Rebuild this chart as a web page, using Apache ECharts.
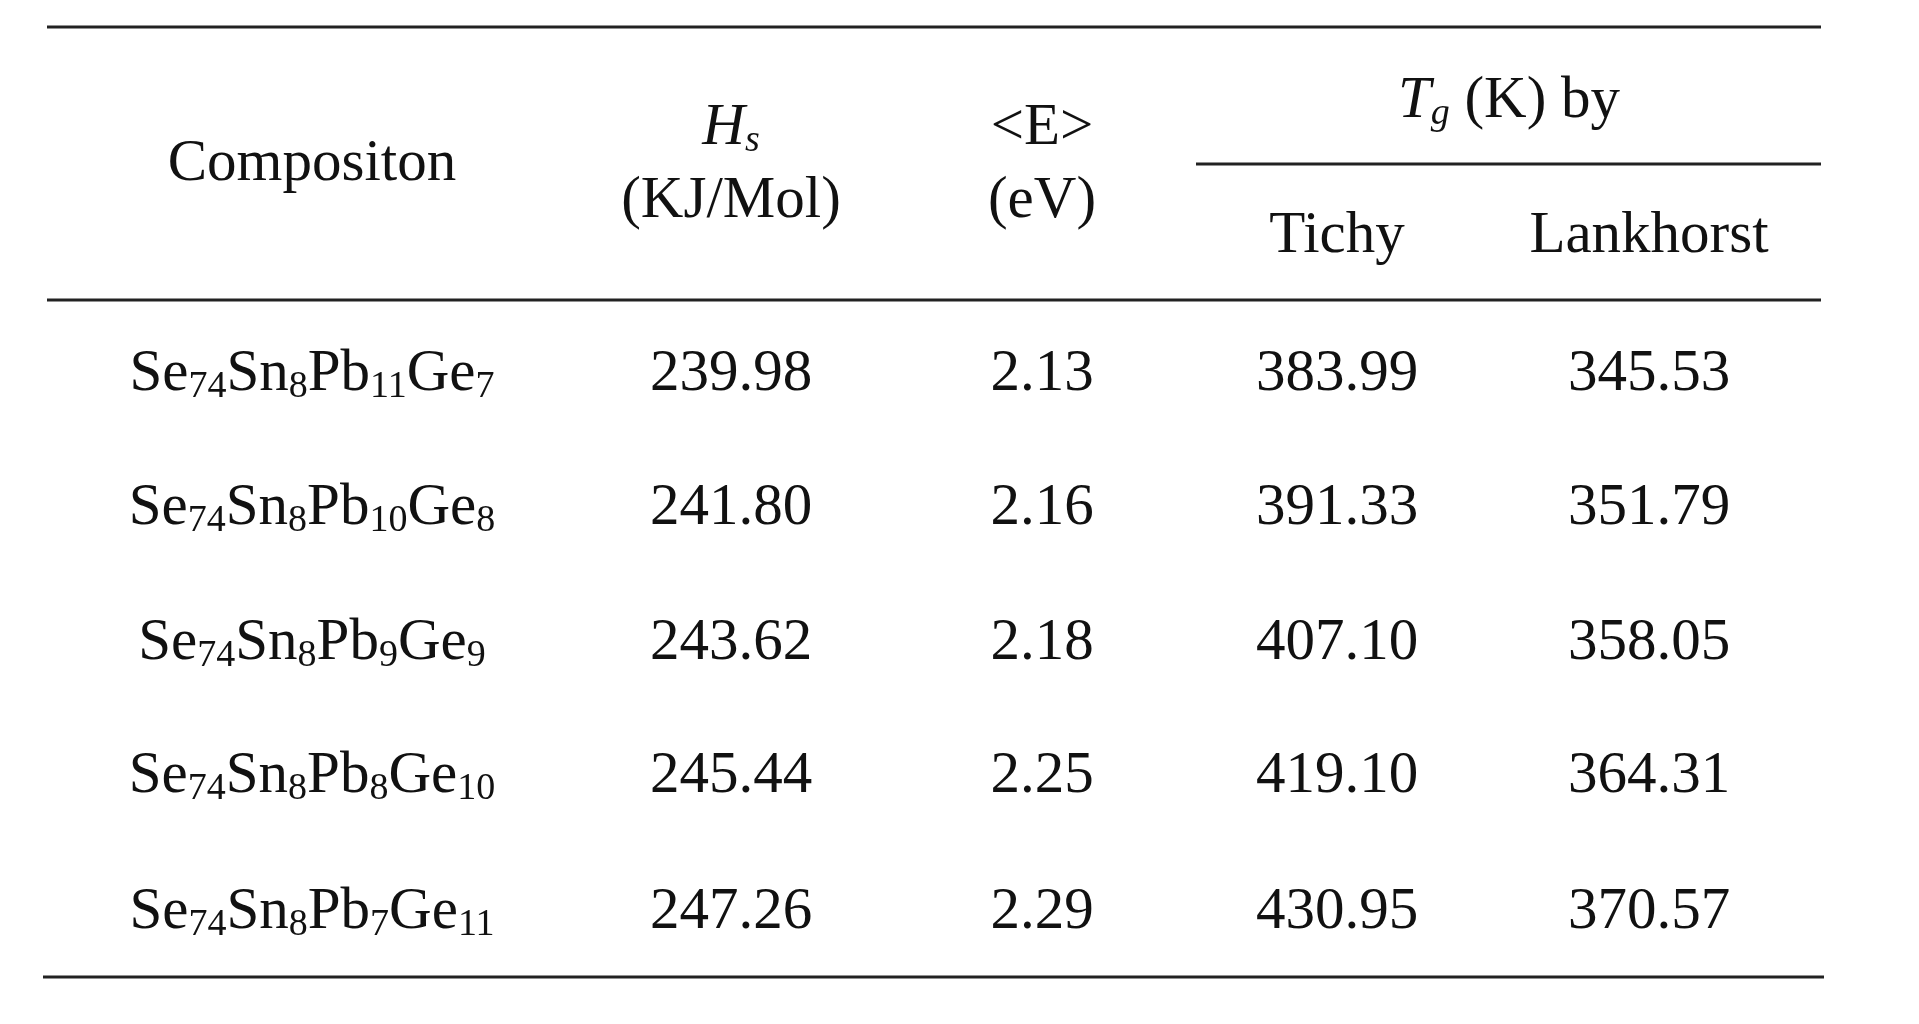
<!DOCTYPE html>
<html>
<head>
<meta charset="utf-8">
<script src="https://cdn.jsdelivr.net/npm/echarts@6/dist/echarts.min.js"></script>
<style>html,body{margin:0;padding:0;background:#fff}#main{width:1919px;height:1024px}</style>
</head>
<body>
<div id="main"></div>
<script>
// table data
var compositions = [
    [['Se', '74'], ['Sn', '8'], ['Pb', '11'], ['Ge', '7']],
    [['Se', '74'], ['Sn', '8'], ['Pb', '10'], ['Ge', '8']],
    [['Se', '74'], ['Sn', '8'], ['Pb', '9'], ['Ge', '9']],
    [['Se', '74'], ['Sn', '8'], ['Pb', '8'], ['Ge', '10']],
    [['Se', '74'], ['Sn', '8'], ['Pb', '7'], ['Ge', '11']]
];
var hs = ['239.98', '241.80', '243.62', '245.44', '247.26'];
var avgE = ['2.13', '2.16', '2.18', '2.25', '2.29'];
var tichy = ['383.99', '391.33', '407.10', '419.10', '430.95'];
var lankhorst = ['345.53', '351.79', '358.05', '364.31', '370.57'];

var colX = [312, 731, 1042, 1337, 1649];
var rowY = [374, 508, 643, 776, 912];
var font = '"Liberation Serif", "Times New Roman", serif';
var fs = 59;

var rich = {
    n: {fontSize: fs, fontFamily: font, fill: '#111', color: '#111'},
    s: {fontSize: 38, fontFamily: font, fill: '#111', color: '#111', padding: [26, 0, 0, 0]},
    i: {fontSize: fs, fontFamily: font, fontStyle: 'italic', fill: '#111', color: '#111'},
    si: {fontSize: 38, fontFamily: font, fontStyle: 'italic', fill: '#111', color: '#111', padding: [26, 0, 0, 0]}
};

function txt(x, y, t) {
    return {
        type: 'text', x: x, y: y,
        style: {text: t, rich: rich, font: fs + 'px ' + font, fill: '#111', align: 'center', verticalAlign: 'middle'}
    };
}
function line(x1, x2, y) {
    return {type: 'line', shape: {x1: x1, y1: y, x2: x2, y2: y}, style: {stroke: '#222', lineWidth: 3}};
}

var els = [
    line(47, 1821, 27), line(1196, 1821, 164), line(47, 1821, 300), line(43, 1824, 977),
    txt(colX[0], 164, '{n|Compositon}'),
    txt(colX[1], 128, '{i|H}{si|s}'),
    txt(colX[1], 201, '{n|(KJ/Mol)}'),
    txt(colX[2], 128, '{n|<E>}'),
    txt(colX[2], 201, '{n|(eV)}'),
    txt(1509, 101, '{i|T}{si|g}{n| (K) by}'),
    txt(colX[3], 236, '{n|Tichy}'),
    txt(colX[4], 236, '{n|Lankhorst}')
];
compositions.forEach(function (c, r) {
    var t = c.map(function (p) { return '{n|' + p[0] + '}{s|' + p[1] + '}'; }).join('');
    els.push(txt(colX[0], rowY[r], t));
    els.push(txt(colX[1], rowY[r], '{n|' + hs[r] + '}'));
    els.push(txt(colX[2], rowY[r], '{n|' + avgE[r] + '}'));
    els.push(txt(colX[3], rowY[r], '{n|' + tichy[r] + '}'));
    els.push(txt(colX[4], rowY[r], '{n|' + lankhorst[r] + '}'));
});

var myChart = echarts.init(document.getElementById('main'));
myChart.setOption({backgroundColor: '#fff', graphic: {elements: els}});
</script>
</body>
</html>
